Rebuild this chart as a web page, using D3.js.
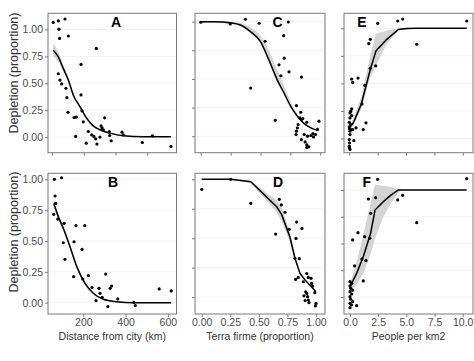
<!DOCTYPE html>
<html>
<head>
<meta charset="utf-8">
<script src="https://cdn.jsdelivr.net/npm/d3@7"></script>
<style>
  body { margin: 0; background: #fff; }
  text { font-family: "Liberation Sans", Arial, sans-serif; }
</style>
</head>
<body>
<svg id="chart" width="474" height="361"></svg>
<script>
// observed points, [x, depletion]
var ptsA = [[8,1.066],[40,1.08],[82,1.098],[44,1.003],[48,0.917],[103,0.94],[279,0.824],[183,0.676],
  [40,0.589],[50,0.53],[61,0.494],[88,0.454],[94,0.367],[183,0.392],[101,0.231],[189,0.244],[139,0.182],
  [153,0.185],[197,0.142],[332,0.179],[149,0.006],[229,0.052],[250,0.021],[264,0.006],[275,-0.016],
  [216,-0.056],[283,-0.065],[302,0.0],[309,0.105],[315,0.086],[323,0.068],[361,0.052],[363,0.015],
  [373,-0.034],[441,0.046],[449,0.021],[569,-0.05],[632,0.012],[749,-0.087]];
var ptsB = [[63,1.0],[97,1.013],[66,0.865],[69,0.805],[60,0.716],[79,0.678],[109,0.643],[105,0.486],
  [113,0.351],[165,0.624],[207,0.624],[156,0.494],[194,0.432],[154,0.211],[197,0.192],[224,0.22],
  [306,0.232],[241,0.122],[274,0.116],[279,0.076],[289,0.044],[260,0.016],[316,-0.032],[327,0.116],
  [334,0.135],[363,0.03],[439,0.003],[446,-0.024],[559,0.111],[616,0.095]];
var ptsC = [[0,0.995],[0.247,0.98],[0.374,1.021],[0.489,0.986],[0.733,0.997],[0.694,0.878],[0.539,0.829],
  [0.699,0.681],[0.655,0.623],[0.739,0.562],[0.671,0.528],[0.843,0.516],[0.418,0.42],[0.801,0.267],
  [0.837,0.209],[0.624,0.139],[0.829,0.16],[0.843,0.145],[0.854,0.154],[0.815,0.102],[0.809,0.073],
  [0.801,0.044],[0.798,0.015],[0.888,0.122],[0.989,0.131],[0.978,0.059],[0.866,0.015],[0.894,0.0],
  [0.922,0.006],[0.944,-0.006],[0.961,0.015],[0.843,-0.029],[0.874,-0.05],[0.888,-0.076],[0.905,-0.093],
  [0.888,-0.099],[0.939,0.023]];
var ptsD = [[0,0.915],[0.254,1.0],[0.429,0.796],[0.679,0.83],[0.697,0.782],[0.729,0.72],[0.647,0.535],
  [0.766,0.575],[0.831,0.637],[0.877,0.583],[0.825,0.498],[0.816,0.329],[0.854,0.326],[0.822,0.15],
  [0.845,0.167],[0.919,0.2],[0.933,0.167],[0.889,0.13],[0.962,0.116],[0.957,0.159],[0.971,0.093],
  [0.91,0.045],[0.919,0.031],[0.927,0.003],[0.933,-0.025],[0.939,-0.048],[0.895,0.01],[0.905,-0.03],
  [0.99,0.037],[1.0,-0.054],[0.995,-0.075]];
var ptsE = [[2.5,1.045],[4.27,1.066],[4.71,1.084],[10.35,1.066],[5.94,0.855],[1.85,0.9],[1.71,0.861],
  [2.33,0.659],[1.85,0.638],[0.77,0.548],[0.21,0.539],[0.3,0.509],[1.36,0.482],[1.12,0.313],[0.21,0.268],
  [0.12,0.247],[0.06,0.232],[0.21,0.208],[0.06,0.187],[0.0,0.147],[0.12,0.126],[0.0,0.106],[0.02,0.088],
  [0.12,0.081],[0.3,0.081],[0.06,0.066],[0.59,0.097],[1.23,0.081],[1.47,0.142],[0.06,0.036],[0.0,-0.009],
  [0.02,-0.039],[0.0,-0.07],[0.0,-0.084],[0.06,-0.099],[0.4,-0.02]];
var ptsF = [[2.45,1.1],[10.35,1.106],[2.28,0.928],[1.63,0.916],[4.67,0.95],[4.23,0.907],[1.83,0.782],
  [5.92,0.695],[0.71,0.601],[1.3,0.564],[1.75,0.548],[0.24,0.533],[1.06,0.355],[1.42,0.34],[0.41,0.29],
  [1.18,0.15],[0.59,-0.081],[0.0,0.143],[0.15,0.128],[0.0,0.103],[0.06,0.081],[0.24,0.065],[0.0,0.05],
  [0.15,0.028],[0.0,0.003],[0.06,-0.021],[0.24,-0.044],[0.0,-0.059],[0.15,-0.075],[0.0,-0.1]];

// fitted curve with its band, [x, fit, lower, upper]
var fitA = [[8,0.808,0.75,0.87],[40,0.746,0.70,0.79],[71,0.639,0.61,0.67],[103,0.531,0.51,0.555],
  [134,0.392,0.375,0.41],[176,0.283,0.265,0.30],[218,0.176,0.16,0.19],[260,0.105,0.095,0.115],
  [302,0.068,0.06,0.075],[365,0.037,0.03,0.044],[449,0.012,0.008,0.016],[575,0.003,0,0.006],[749,0.003,0,0.006]];
var fitB = [[60,0.805,0.77,0.84],[82,0.697,0.67,0.72],[105,0.603,0.58,0.625],[137,0.454,0.435,0.47],
  [169,0.292,0.275,0.31],[208,0.157,0.145,0.17],[247,0.076,0.068,0.084],[295,0.027,0.022,0.032],
  [358,0.008,0.005,0.011],[437,0,0,0.003],[616,0,0,0.002]];
var fitC = [[0,1.0,0.99,1.005],[0.107,1.0,0.99,1.005],[0.247,0.99,0.98,1.0],[0.332,0.971,0.96,0.99],
  [0.416,0.913,0.9,0.95],[0.5,0.826,0.81,0.88],[0.57,0.667,0.64,0.75],[0.64,0.492,0.47,0.58],
  [0.697,0.377,0.36,0.44],[0.753,0.261,0.25,0.3],[0.809,0.174,0.165,0.19],[0.866,0.11,0.105,0.115],
  [0.922,0.073,0.07,0.076],[0.978,0.052,0.05,0.055]];
var fitD = [[0,1.0,1.0,1.0],[0.254,1.0,0.995,1.0],[0.429,0.98,0.97,0.99],[0.656,0.767,0.72,0.82],
  [0.7,0.7,0.64,0.76],[0.772,0.51,0.47,0.55],[0.816,0.33,0.31,0.35],[0.86,0.2,0.19,0.21],
  [0.9,0.15,0.14,0.16],[1.0,0.045,0.04,0.05]];
var fitE = [[0,0.097,0.07,0.12],[0.36,0.142,0.12,0.18],[1.06,0.313,0.27,0.38],[1.82,0.614,0.55,0.74],
  [2.35,0.795,0.66,0.95],[3.3,0.9,0.86,0.98],[4.33,0.99,0.98,1.0],[5.07,0.997,0.99,1.0],
  [5.94,1.0,1.0,1.0],[10.35,1.0,1.0,1.0]];
var fitF = [[0,0.096,0.05,0.13],[0.59,0.22,0.12,0.33],[1.18,0.377,0.22,0.58],[1.83,0.595,0.4,0.88],
  [2.22,0.813,0.55,1.05],[2.96,0.891,0.75,1.04],[3.6,0.95,0.87,1.03],[4.29,1.0,0.98,1.01],
  [4.67,1.0,1.0,1.0],[10.35,1.0,1.0,1.0]];

var yTicks = [0, 0.25, 0.5, 0.75, 1];
var distTicks = [0, 200, 400, 600];
var propTicks = [0, 0.25, 0.5, 0.75, 1];
var peopleTicks = [0, 2.5, 5, 7.5, 10];
var xTitles = ['Distance from city (km)', 'Terra firme (proportion)', 'People per km2'];
var yTitle = 'Depletion (proportion)';

var colX = [48, 195, 344], colW = [128.5, 130, 129];
var rowY = [13.3, 173.3], rowH = [139.4, 140.7];

var panels = [
  {name: 'A', col: 0, row: 0, pts: ptsA, fit: fitA, smooth: true, xt: distTicks, xd: [-25, 784], yd: [-0.145, 1.151], lab: [403, 1.02]},
  {name: 'C', col: 1, row: 0, pts: ptsC, fit: fitC, smooth: true, xt: propTicks, xd: [-0.048, 1.04], yd: [-0.144, 1.073], lab: [0.643, 0.954]},
  {name: 'E', col: 2, row: 0, pts: ptsE, fit: fitE, smooth: false, xt: peopleTicks, xd: [-0.467, 10.9], yd: [-0.129, 1.136], lab: [1.12, 1.01]},
  {name: 'B', col: 0, row: 1, pts: ptsB, fit: fitB, smooth: true, xt: distTicks, xd: [32.7, 641], yd: [-0.092, 1.049], lab: [341, 0.94]},
  {name: 'D', col: 1, row: 1, pts: ptsD, fit: fitD, smooth: false, xt: propTicks, xd: [-0.059, 1.079], yd: [-0.144, 1.051], lab: [0.668, 0.935]},
  {name: 'F', col: 2, row: 1, pts: ptsF, fit: fitF, smooth: false, xt: peopleTicks, xd: [-0.53, 10.91], yd: [-0.159, 1.156], lab: [1.5, 1.028]}
];

var svg = d3.select('#chart');
var frameCol = '#7a7a7a', tickTextCol = '#4d4d4d';

panels.forEach(function(p) {
  var x0 = colX[p.col], w = colW[p.col], y0 = rowY[p.row], h = rowH[p.row];
  var x = d3.scaleLinear().domain(p.xd).range([x0, x0 + w]);
  var y = d3.scaleLinear().domain(p.yd).range([y0 + h, y0]);
  var g = svg.append('g');

  // faint grid
  g.selectAll('line.grid').data(yTicks).enter().append('line')
      .attr('x1', x0).attr('x2', x0 + w)
      .attr('y1', function(d) { return y(d); })
      .attr('y2', function(d) { return y(d); })
      .attr('stroke', '#f2f2f2').attr('stroke-width', 1);

  var curve = p.smooth ? d3.curveMonotoneX : d3.curveLinear;
  g.append('path').datum(p.fit)
      .attr('d', d3.area().curve(curve)
        .x(function(d) { return x(d[0]); })
        .y0(function(d) { return y(d[2]); })
        .y1(function(d) { return y(d[3]); }))
      .attr('fill', '#d4d4d4');

  g.append('path').datum(p.fit)
      .attr('d', d3.line().curve(curve)
        .x(function(d) { return x(d[0]); })
        .y(function(d) { return y(d[1]); }))
      .attr('fill', 'none').attr('stroke', '#000').attr('stroke-width', 1.5);

  g.selectAll('circle').data(p.pts).enter().append('circle')
      .attr('cx', function(d) { return x(d[0]); })
      .attr('cy', function(d) { return y(d[1]); })
      .attr('r', 1.6).attr('fill', '#000');

  // axes
  var ax = d3.axisBottom(x).tickValues(p.xt.filter(function(t) { return t >= p.xd[0] && t <= p.xd[1]; }))
      .tickSize(3).tickPadding(2)
      .tickFormat(p.row === 1 ? (p.col === 2 ? d3.format('.1f') : (p.col === 1 ? d3.format('.2f') : d3.format('d'))) : '');
  var gx = g.append('g').attr('transform', 'translate(0,' + (y0 + h) + ')').call(ax);
  gx.select('.domain').remove();
  gx.selectAll('line').attr('stroke', frameCol);
  gx.selectAll('text').attr('fill', tickTextCol).style('font-size', '10.5px');

  var ay = d3.axisLeft(y).tickValues(yTicks).tickSize(3).tickPadding(2)
      .tickFormat(p.col === 0 ? d3.format('.2f') : '');
  var gy = g.append('g').attr('transform', 'translate(' + x0 + ',0)').call(ay);
  gy.select('.domain').remove();
  gy.selectAll('line').attr('stroke', frameCol);
  gy.selectAll('text').attr('fill', tickTextCol).style('font-size', '10.5px');

  g.append('rect').attr('x', x0).attr('y', y0).attr('width', w).attr('height', h)
      .attr('fill', 'none').attr('stroke', frameCol).attr('stroke-width', 1);

  g.append('text').attr('x', x(p.lab[0])).attr('y', y(p.lab[1]))
      .attr('text-anchor', 'middle').style('font-size', '14px').style('font-weight', 'bold')
      .text(p.name);
});

// axis titles
svg.selectAll('text.xt').data(xTitles).enter().append('text')
    .attr('x', function(d, i) { return colX[i] + colW[i] / 2; })
    .attr('y', 340)
    .attr('text-anchor', 'middle').attr('fill', '#333').style('font-size', '10.5px')
    .text(function(d) { return d; });

svg.selectAll('text.yt').data([73, 232]).enter().append('text')
    .attr('transform', function(d) { return 'translate(18,' + d + ') rotate(-90)'; })
    .attr('text-anchor', 'middle').attr('fill', '#333').style('font-size', '12.5px')
    .text(yTitle);
</script>
</body>
</html>
